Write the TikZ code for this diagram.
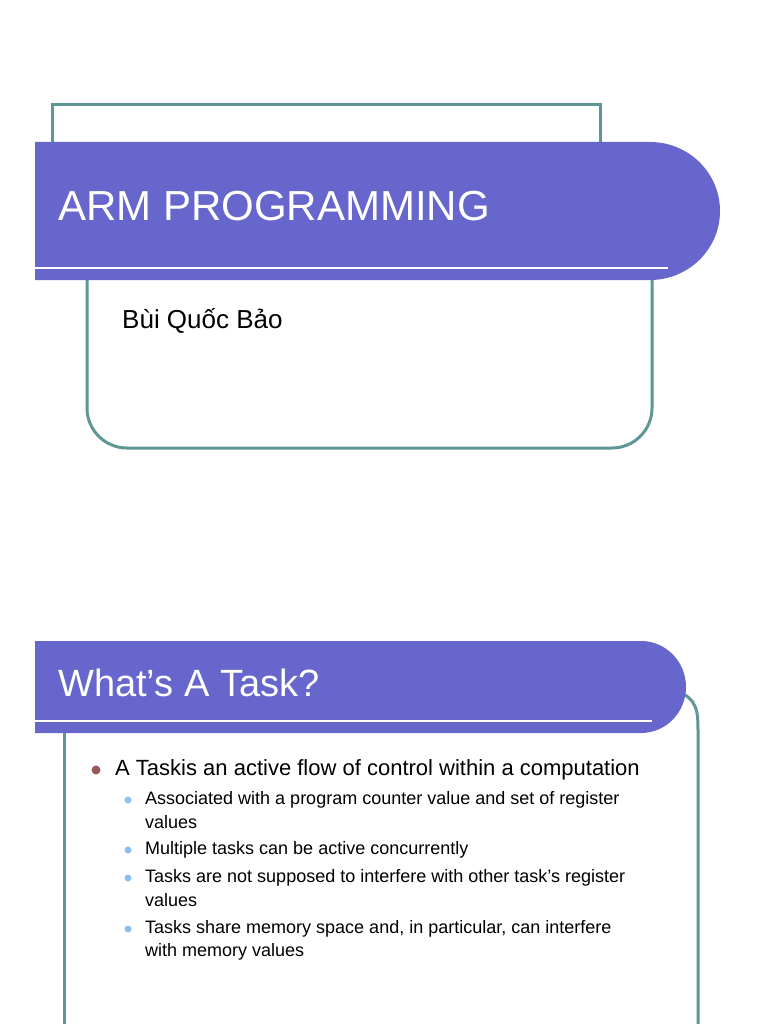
\documentclass[tikz,border=0pt]{standalone}
\usepackage{fontspec}
\setmainfont{Liberation Sans}
\begin{document}
\begin{tikzpicture}[x=1pt,y=-1pt]
\definecolor{band}{RGB}{102,102,204}
\definecolor{teal}{RGB}{95,150,150}
\definecolor{brown}{RGB}{150,90,90}
\definecolor{lblue}{RGB}{140,190,240}
\tikzset{frame/.style={draw=teal,line width=3pt},
  txt/.style={anchor=west,inner sep=0pt,text=black}}
\useasboundingbox[fill=white] (0,0) rectangle (768,1024);
% slide 1
\draw[frame] (52,142) -- (52,105) -- (600,105) -- (600,142);
\draw[frame] (87,280) -- (87,408) arc[start angle=180,end angle=270,x radius=40,y radius=-40] -- (612,448) arc[start angle=270,end angle=360,x radius=40,y radius=-40] -- (652,280);
\fill[band] (35,142) -- (650,142) arc[start angle=90,end angle=-90,x radius=70,y radius=-69] -- (35,280) -- cycle;
\draw[white,line width=2pt] (35,268) -- (668,268);
\node[txt,text=white,font=\fontsize{42}{42}\selectfont] (t1) at (58,206) {ARM PROGRAMMING};
\node[txt,font=\fontsize{26}{26}\selectfont] (a1) at (122,321) {Bùi Quốc Bảo};
% slide 2
\draw[frame] (64,733) -- (64,1030);
\draw[frame] (680,688) arc[start angle=150,end angle=0,radius=0] (676,690) .. controls (698,700) and (698,710) .. (698,735) -- (698,1030);
\fill[band] (35,641) -- (641,641) arc[start angle=90,end angle=-90,x radius=45,y radius=-46] -- (35,733) -- cycle;
\draw[white,line width=2pt] (35,721) -- (652,721);
\node[txt,text=white,font=\fontsize{38}{38}\selectfont] (t2) at (58,683) {What’s A Task?};
\fill[brown] (96,770) circle (4.5);
\node[txt,font=\fontsize{22}{22}\selectfont] (b1) at (115,770) {A Taskis an active flow of control within a computation};
\foreach \y in {800,850,878,929} \fill[lblue] (128,\y) circle (3.5);
\tikzset{sub/.style={txt,font=\fontsize{18}{18}\selectfont}}
\node[sub] (s1) at (145,800) {Associated with a program counter value and set of register};
\node[sub] (s1b) at (145,822) {values};
\node[sub] (s2) at (145,850) {Multiple tasks can be active concurrently};
\node[sub] (s3) at (145,878) {Tasks are not supposed to interfere with other task’s register};
\node[sub] (s3b) at (145,900) {values};
\node[sub] (s4) at (145,929) {Tasks share memory space and, in particular, can interfere};
\node[sub] (s4b) at (145,952) {with memory values};
\end{tikzpicture}
\end{document}
